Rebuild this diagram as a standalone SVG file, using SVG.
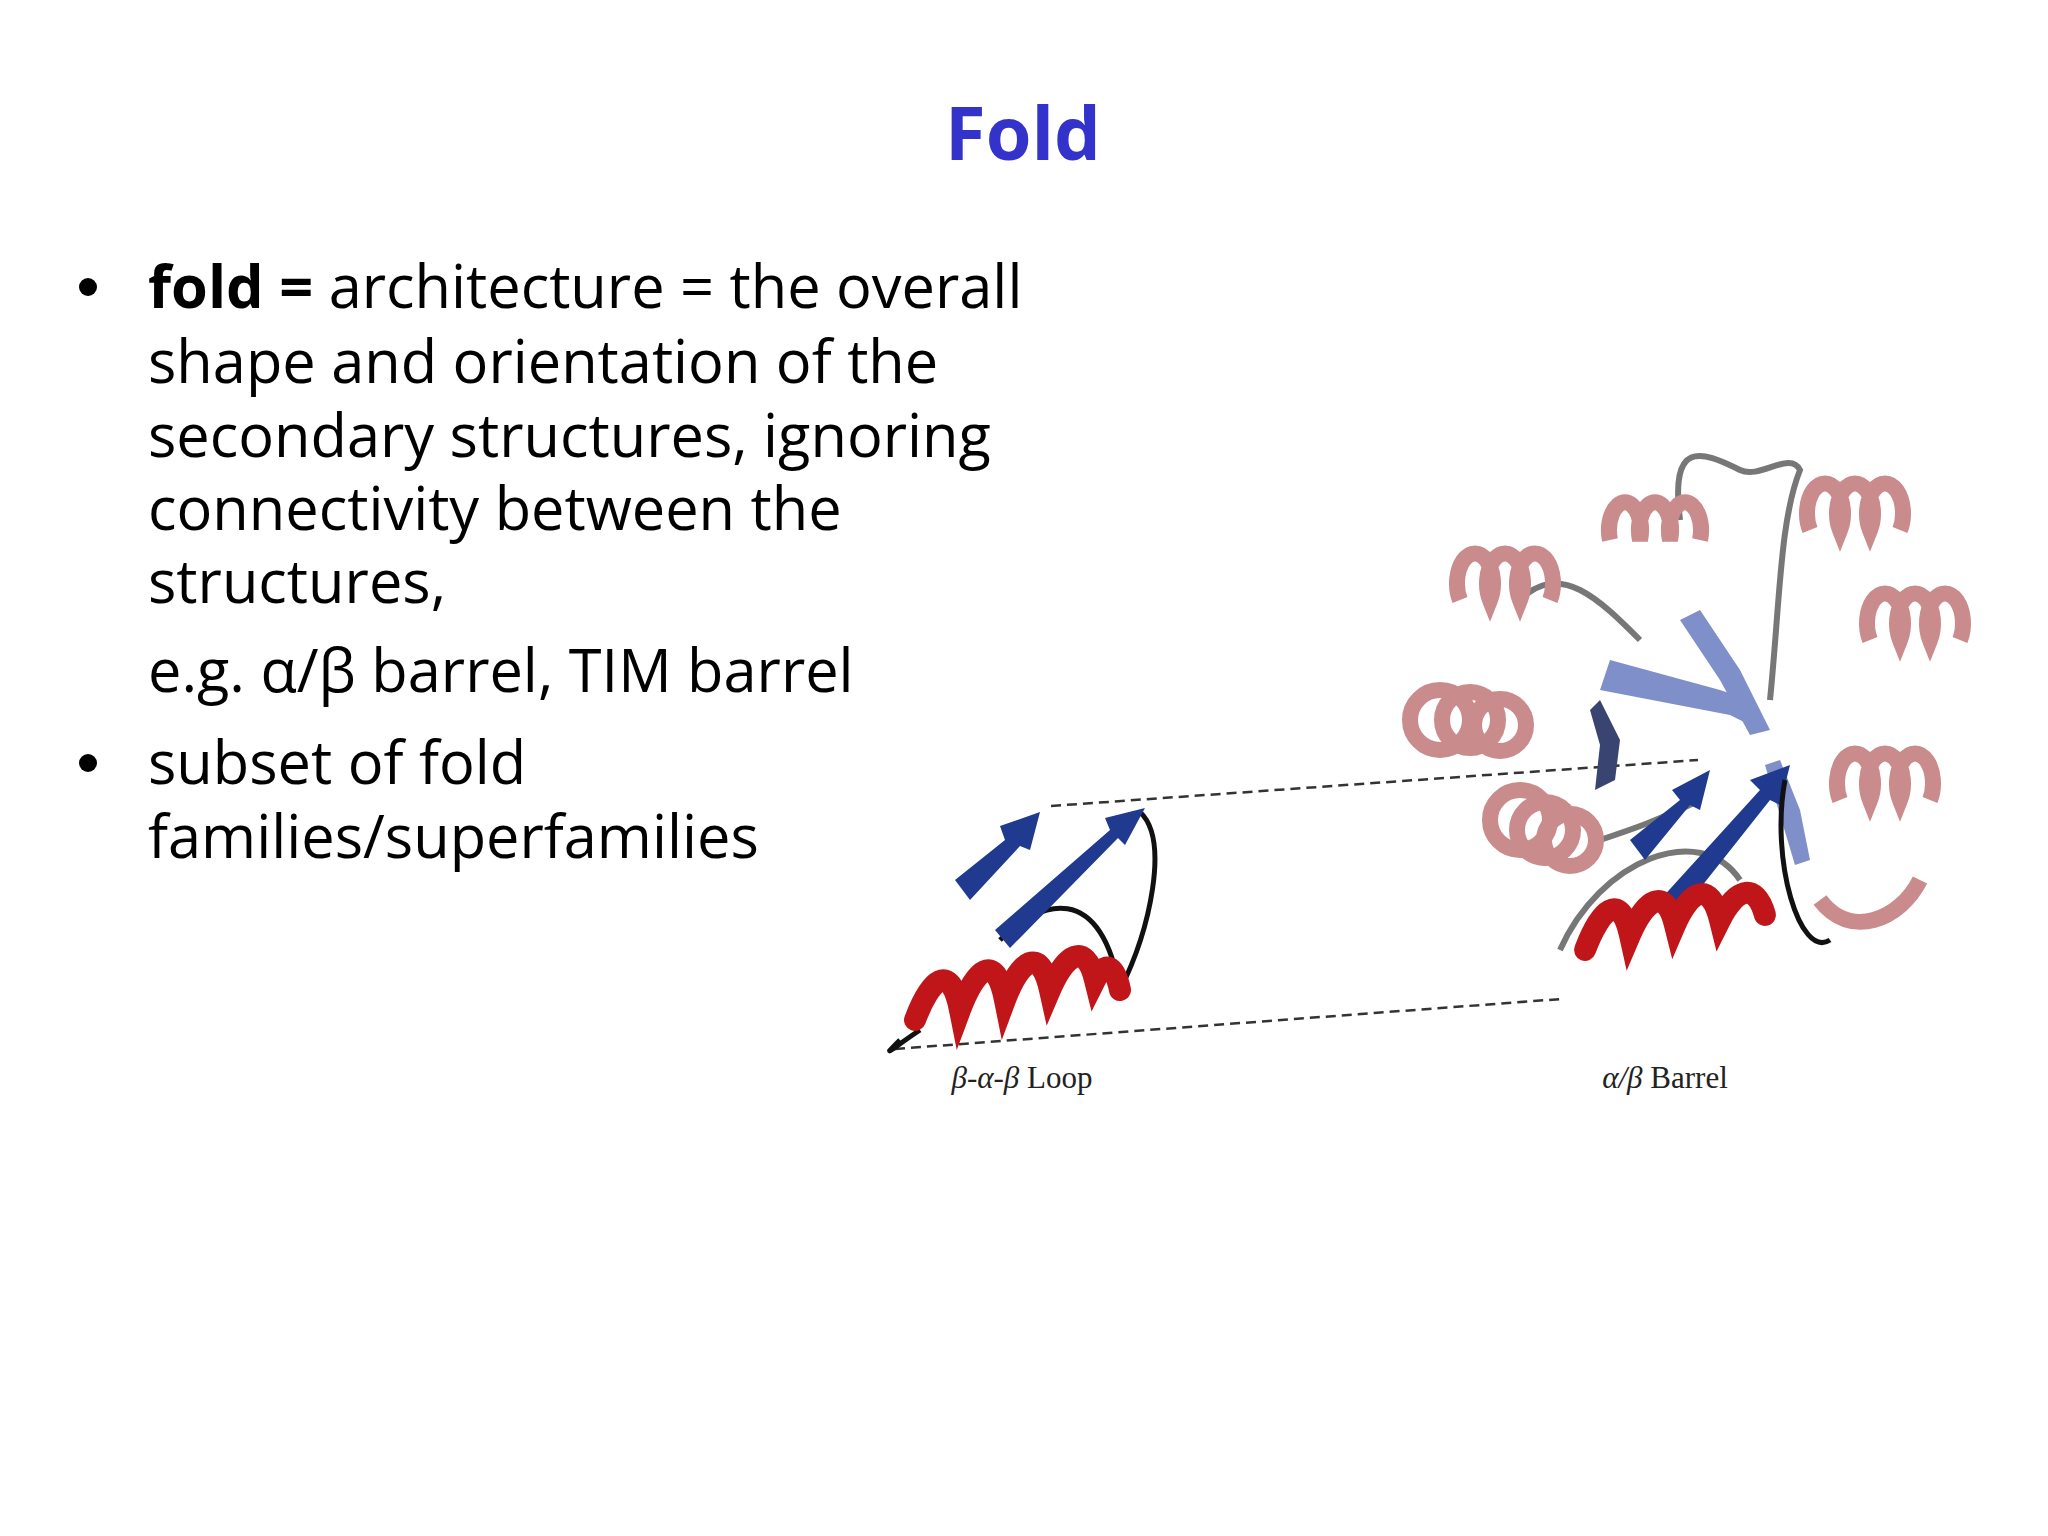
<svg xmlns="http://www.w3.org/2000/svg" width="2048" height="1536" viewBox="0 0 2048 1536">
<style>
.t{font-family:"Open Sans","Liberation Sans",sans-serif;font-size:59.5px;fill:#000}
.lab{font-family:"Liberation Serif",serif;font-size:31px;fill:#222}
.dash{stroke:#333;stroke-width:2.5;stroke-dasharray:10 6;fill:none}
.red{fill:none;stroke:#c0161a;stroke-width:22;stroke-linecap:round}
.pink{fill:none;stroke:#c98b8b;stroke-width:16}
.loop{fill:none;stroke:#111;stroke-width:5}
.gloop{fill:none;stroke:#777;stroke-width:6}
.blue{fill:#1f3a8f}
.lblue{fill:#7e8fc9}
</style>
<rect width="2048" height="1536" fill="#fff"/>
<g id="title"><text x="1023" y="160" text-anchor="middle" font-family="Open Sans,Liberation Sans,sans-serif" font-weight="bold" font-size="74" fill="#3333cc">Fold</text></g>
<g id="text">
<circle cx="88" cy="287" r="9"/>
<text class="t" x="148" y="308"><tspan font-weight="bold">fold =</tspan> architecture = the overall</text>
<text class="t" x="148" y="383">shape and orientation of the</text>
<text class="t" x="148" y="457">secondary structures, ignoring</text>
<text class="t" x="148" y="530">connectivity between the</text>
<text class="t" x="148" y="603">structures,</text>
<text class="t" x="148" y="692">e.g. α/β barrel, TIM barrel</text>
<circle cx="88" cy="763" r="9"/>
<text class="t" x="148" y="784">subset of fold</text>
<text class="t" x="148" y="858">families/superfamilies</text>
</g>
<g id="connectors">
<line class="dash" x1="1051" y1="806" x2="1698" y2="760"/>
<line class="dash" x1="895" y1="1049" x2="1561" y2="999"/>
</g>
<g id="loop">
<path class="loop" d="M1140 812 C1170 840 1150 930 1120 990 M1000 940 C1040 900 1100 880 1120 990 M900 1040 C880 1060 890 1050 920 1030"/>
<path class="red" d="M915 1020 C930 980 950 960 960 1010 C975 970 995 950 1005 1000 C1020 960 1040 945 1050 990 C1065 955 1085 940 1095 980 C1105 960 1115 965 1120 990"/>
<polygon class="blue" points="955,880 1005,840 1000,826 1040,812 1030,850 1020,846 970,900"/>
<polygon class="blue" points="995,930 1110,830 1105,818 1145,808 1125,845 1118,838 1010,948"/>
</g>
<g id="barrel">
<path class="gloop" d="M1680 520 C1670 440 1700 450 1740 470 C1760 480 1790 450 1800 470 C1780 520 1780 600 1770 700 M1520 600 C1560 560 1600 600 1640 640 M1600 840 C1630 830 1660 820 1700 800 M1560 950 C1600 860 1700 820 1740 880"/>
<path class="pink" d="M1460 600 a18 30 0 1 1 30 0 a18 30 0 1 1 30 0 a18 30 0 1 1 30 0"/>
<path class="pink" d="M1610 540 a16 28 0 1 1 30 0 a16 28 0 1 1 30 0 a16 28 0 1 1 30 0"/>
<path class="pink" d="M1810 530 a18 30 0 1 1 30 0 a18 30 0 1 1 30 0 a18 30 0 1 1 30 0"/>
<path class="pink" d="M1870 640 a18 30 0 1 1 30 0 a18 30 0 1 1 30 0 a18 30 0 1 1 30 0"/>
<path class="pink" d="M1840 800 a18 30 0 1 1 30 0 a18 30 0 1 1 30 0 a18 30 0 1 1 30 0"/>
<circle class="pink" cx="1440" cy="720" r="30"/><circle class="pink" cx="1470" cy="720" r="28"/><circle class="pink" cx="1500" cy="725" r="26"/>
<circle class="pink" cx="1520" cy="820" r="30"/><circle class="pink" cx="1545" cy="830" r="28"/><circle class="pink" cx="1570" cy="840" r="26"/>
<path class="pink" d="M1820 900 C1850 940 1900 920 1920 880"/>
<polygon class="lblue" points="1610,660 1720,690 1750,700 1760,730 1730,715 1600,690"/>
<polygon class="lblue" points="1700,610 1740,670 1770,730 1750,735 1720,680 1680,620"/>
<polygon class="lblue" points="1780,760 1800,810 1810,860 1795,865 1780,815 1765,765"/>
<polygon fill="#3a4470" points="1600,700 1620,740 1615,780 1595,790 1600,745 1590,710"/>
<polygon class="blue" points="1630,840 1680,800 1672,790 1710,770 1700,810 1690,805 1645,860"/>
<polygon class="blue" points="1660,900 1760,790 1750,780 1790,765 1780,805 1770,800 1675,920"/>
<path class="loop" d="M1785 780 C1770 860 1800 960 1830 940"/>
<path class="red" d="M1585 950 C1600 910 1620 890 1630 935 C1645 900 1665 885 1675 925 C1690 890 1710 880 1720 920 C1735 890 1755 880 1765 915"/>
</g>
<g id="labels">
<text class="lab" x="1022" y="1088" text-anchor="middle"><tspan font-style="italic">β-α-β</tspan> Loop</text>
<text class="lab" x="1665" y="1088" text-anchor="middle"><tspan font-style="italic">α/β</tspan> Barrel</text>
</g>
</svg>
